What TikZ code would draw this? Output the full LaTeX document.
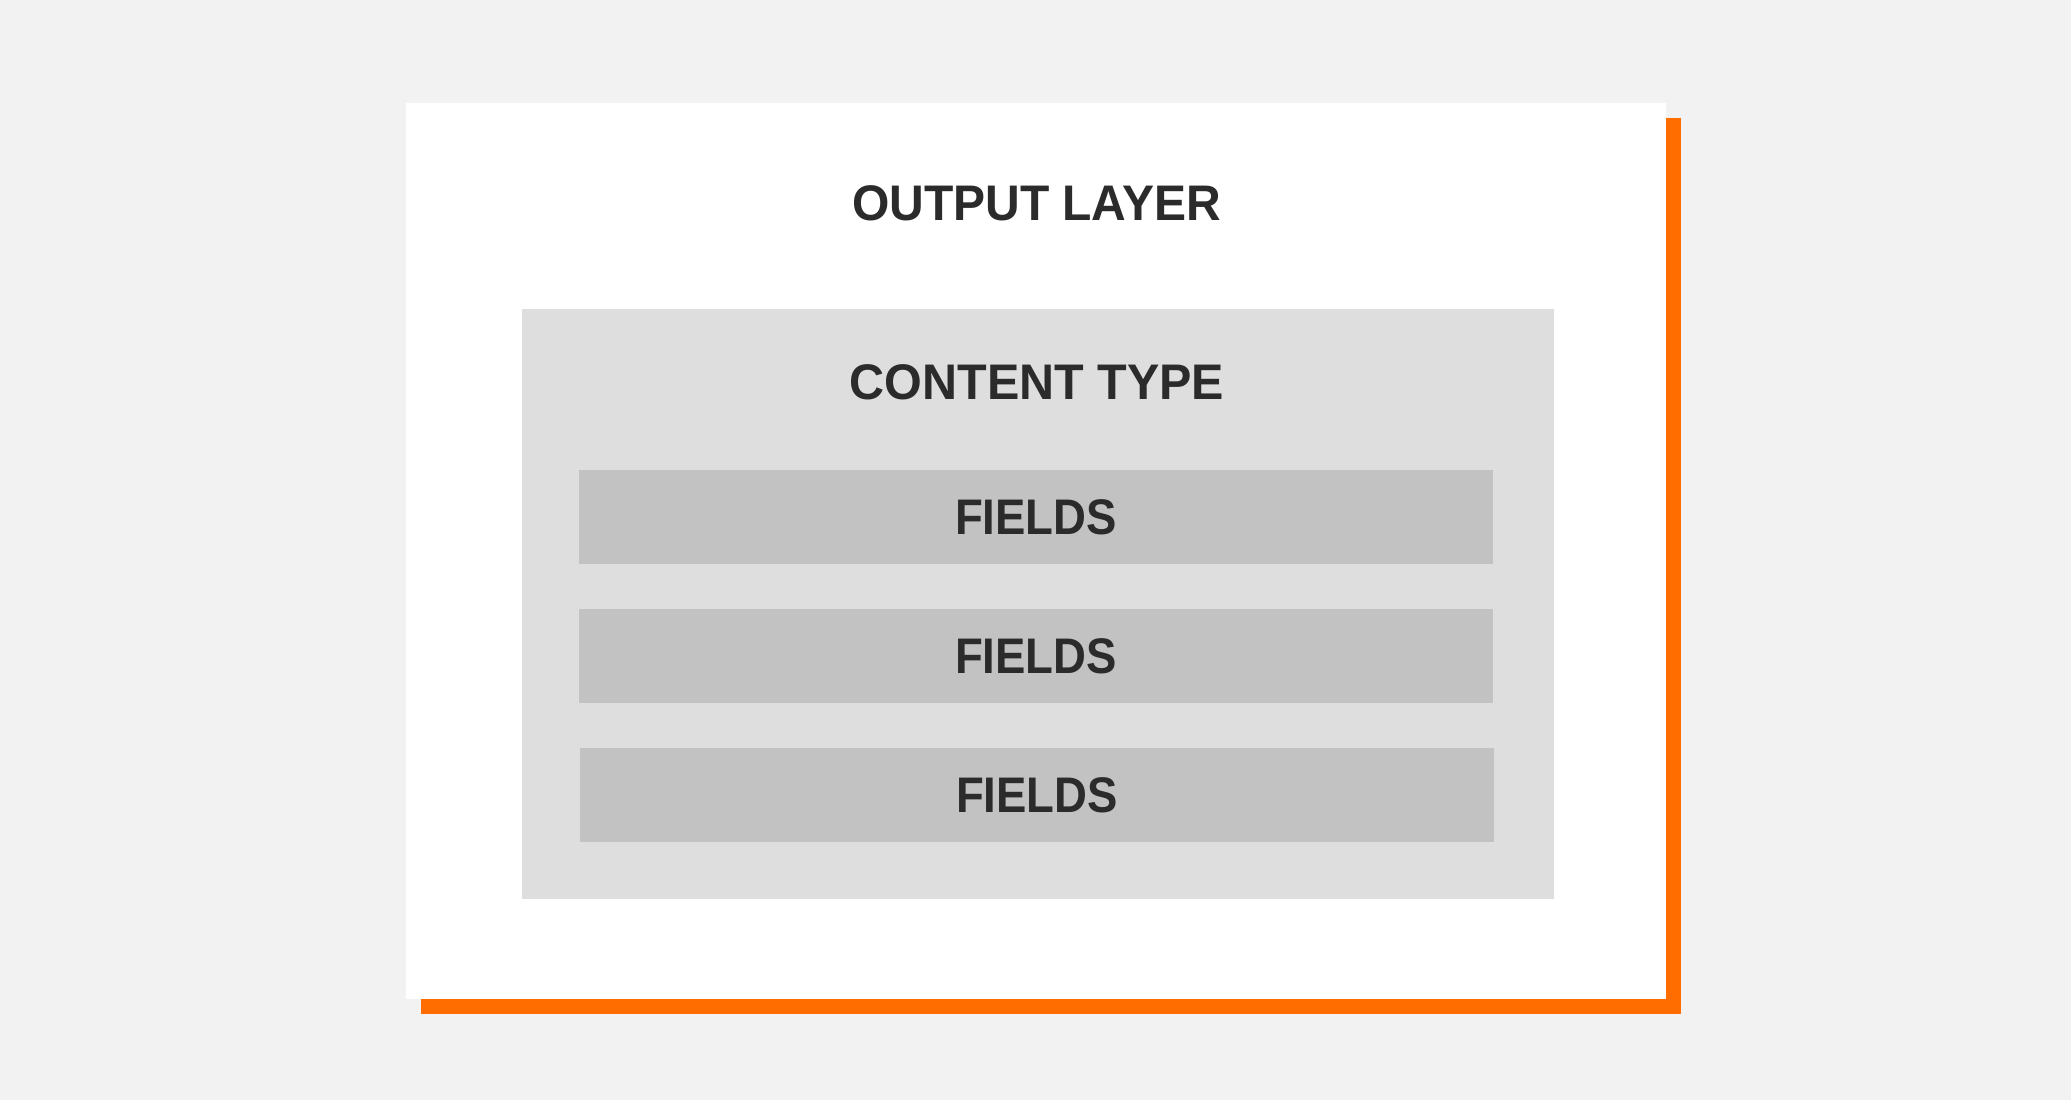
\documentclass[tikz,border=0pt]{standalone}
\usepackage{fontspec}
\setmainfont{Liberation Sans}
\definecolor{bgc}{HTML}{F2F2F2}
\definecolor{layerc}{HTML}{FFFFFF}
\definecolor{shadowc}{HTML}{FF6D00}
\definecolor{typec}{HTML}{DEDEDE}
\definecolor{fieldc}{HTML}{C2C2C2}
\definecolor{inkc}{HTML}{2B2B2B}
\newcommand{\lbltext}[2]{\scalebox{#1}[1]{#2}}
\begin{document}
\begin{tikzpicture}[x=1pt,y=-1pt,
  box/.style={inner sep=0pt, outer sep=0pt, draw=none, rectangle},
  lbl/.style={font=\fontsize{50}{60}\selectfont\bfseries, text=inkc, inner sep=0pt, outer sep=0pt}]
\fill[bgc] (0,0) rectangle (2071,1100);
\useasboundingbox (0,0) rectangle (2071,1100);
\node[box, fill=shadowc, minimum width=1260pt, minimum height=896pt] (shadow) at (1051,566) {};
\node[box, fill=layerc, minimum width=1260pt, minimum height=896pt] (outer) at (1036,551) {};
\node[box, fill=typec, minimum width=1032pt, minimum height=590pt] (ctype) at (1038,604) {};
\node[box, fill=fieldc, minimum width=914pt, minimum height=94pt] (f1) at (1036,517) {};
\node[box, fill=fieldc, minimum width=914pt, minimum height=94pt] (f2) at (1036,656) {};
\node[box, fill=fieldc, minimum width=914pt, minimum height=94pt] (f3) at (1037,795) {};
\node[lbl] (t0) at (1036.5,203.5) {\lbltext{0.96}{OUTPUT LAYER}};
\node[lbl] (t1) at (1037,382) {\lbltext{0.97}{CONTENT TYPE}};
\node[lbl] (t2) at (f1.center) {\lbltext{0.91}{FIELDS}};
\node[lbl] (t3) at (f2.center) {\lbltext{0.91}{FIELDS}};
\node[lbl] (t4) at (f3.center) {\lbltext{0.91}{FIELDS}};
\end{tikzpicture}
\end{document}
